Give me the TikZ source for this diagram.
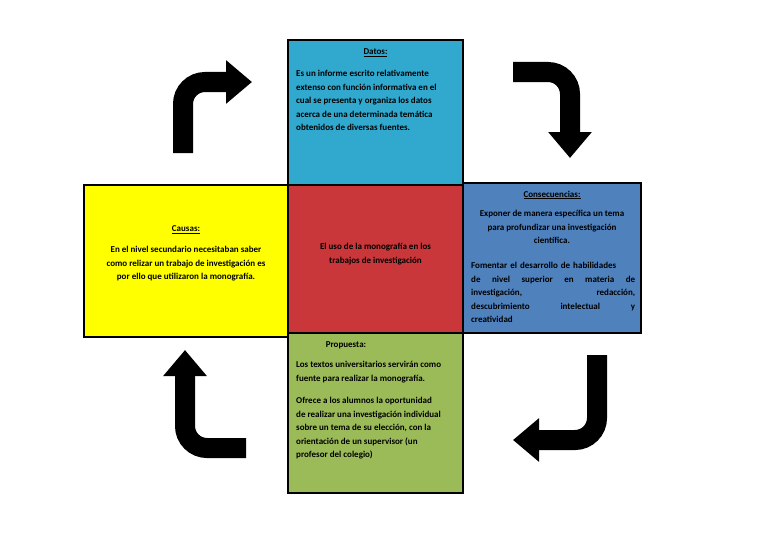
\documentclass[tikz,border=0pt]{standalone}
\usepackage{fontspec}
\setmainfont{Carlito}
\usetikzlibrary{arrows.meta}
\definecolor{cDatos}{HTML}{31A9CF}
\definecolor{cCaus}{HTML}{FFFF00}
\definecolor{cCons}{HTML}{4F81BD}
\definecolor{cProp}{HTML}{9BBB59}
\definecolor{cCent}{HTML}{C9373A}
\begin{document}
\begin{tikzpicture}[x=1pt,y=-1pt,
  box/.style={draw=black,line width=1.5pt},
  txt/.style={font=\bfseries\fontsize{9}{13.5}\selectfont,align=left,inner sep=0pt},
  bent/.style={line width=20pt,rounded corners=22pt,-{Triangle[width=42pt,length=26pt]}}]
\useasboundingbox (0,0) rectangle (768,543);
\fill[white] (0,0) rectangle (768,543);
\draw[box,fill=cDatos] (288,40) rectangle (463,185) coordinate (datosbox);
\draw[box,fill=cCaus] (84,185) rectangle (288,337) coordinate (causbox);
\draw[box,fill=cCons] (463,183) rectangle (641,333) coordinate (consbox);
\draw[box,fill=cProp] (288,333) rectangle (463,493) coordinate (propbox);
\draw[box,fill=cCent] (288,185) rectangle (463,333) coordinate (centbox);
\node[txt,align=center] (datosT) at (375.5,53) {\underline{Datos:}};
\node[txt,anchor=north west] (datos) at (296,70) {Es un informe escrito relativamente\\extenso con función informativa en el\\cual se presenta y organiza los datos\\acerca de una determinada temática\\obtenidos de diversas fuentes.};
\node[txt,align=center] (causT) at (186,230) {\underline{Causas:}};
\node[txt,align=center,anchor=north] (caus) at (186,246) {En el nivel secundario necesitaban saber\\como relizar un trabajo de investigación es\\por ello que utilizaron la monografía.};
\node[txt,align=center] (cent) at (375.5,254) {El uso de la monografía en los\\trabajos de investigación};
\node[txt,align=center] (consT) at (552,195) {\underline{Consecuencias:}};
\node[txt,align=center,anchor=north] (cons1) at (552,210) {Exponer de manera específica un tema\\para profundizar una investigación\\científica.};
\node[txt,align=left,anchor=north west,text width=164pt] (cons2) at (471,262) {Fomentar el desarrollo de habilidades\\de\hfill nivel\hfill superior\hfill en\hfill materia\hfill de\\investigación,\hfill redacción,\\descubrimiento\hfill intelectual\hfill y\\creatividad};
\node[txt] (propT) at (346,345) {Propuesta:};
\node[txt,anchor=north west] (prop1) at (296,361) {Los textos universitarios servirán como\\fuente para realizar la monografía.};
\node[txt,anchor=north west] (prop2) at (296,397) {Ofrece a los alumnos la oportunidad\\de realizar una investigación individual\\sobre un tema de su elección, con la\\orientación de un supervisor (un\\profesor del colegio)};
\coordinate (a1) at (183,153); \coordinate (a2) at (183,82); \coordinate (a3) at (252,82);
\draw[bent] (a1) -- (a2) -- (a3);
\coordinate (b1) at (513,72); \coordinate (b2) at (570,72); \coordinate (b3) at (570,158);
\draw[bent] (b1) -- (b2) -- (b3);
\coordinate (c1) at (597,355); \coordinate (c2) at (597,440); \coordinate (c3) at (513,440);
\draw[bent] (c1) -- (c2) -- (c3);
\coordinate (d1) at (246,448); \coordinate (d2) at (185,448); \coordinate (d3) at (185,350);
\draw[bent] (d1) -- (d2) -- (d3);
\end{tikzpicture}
\end{document}
